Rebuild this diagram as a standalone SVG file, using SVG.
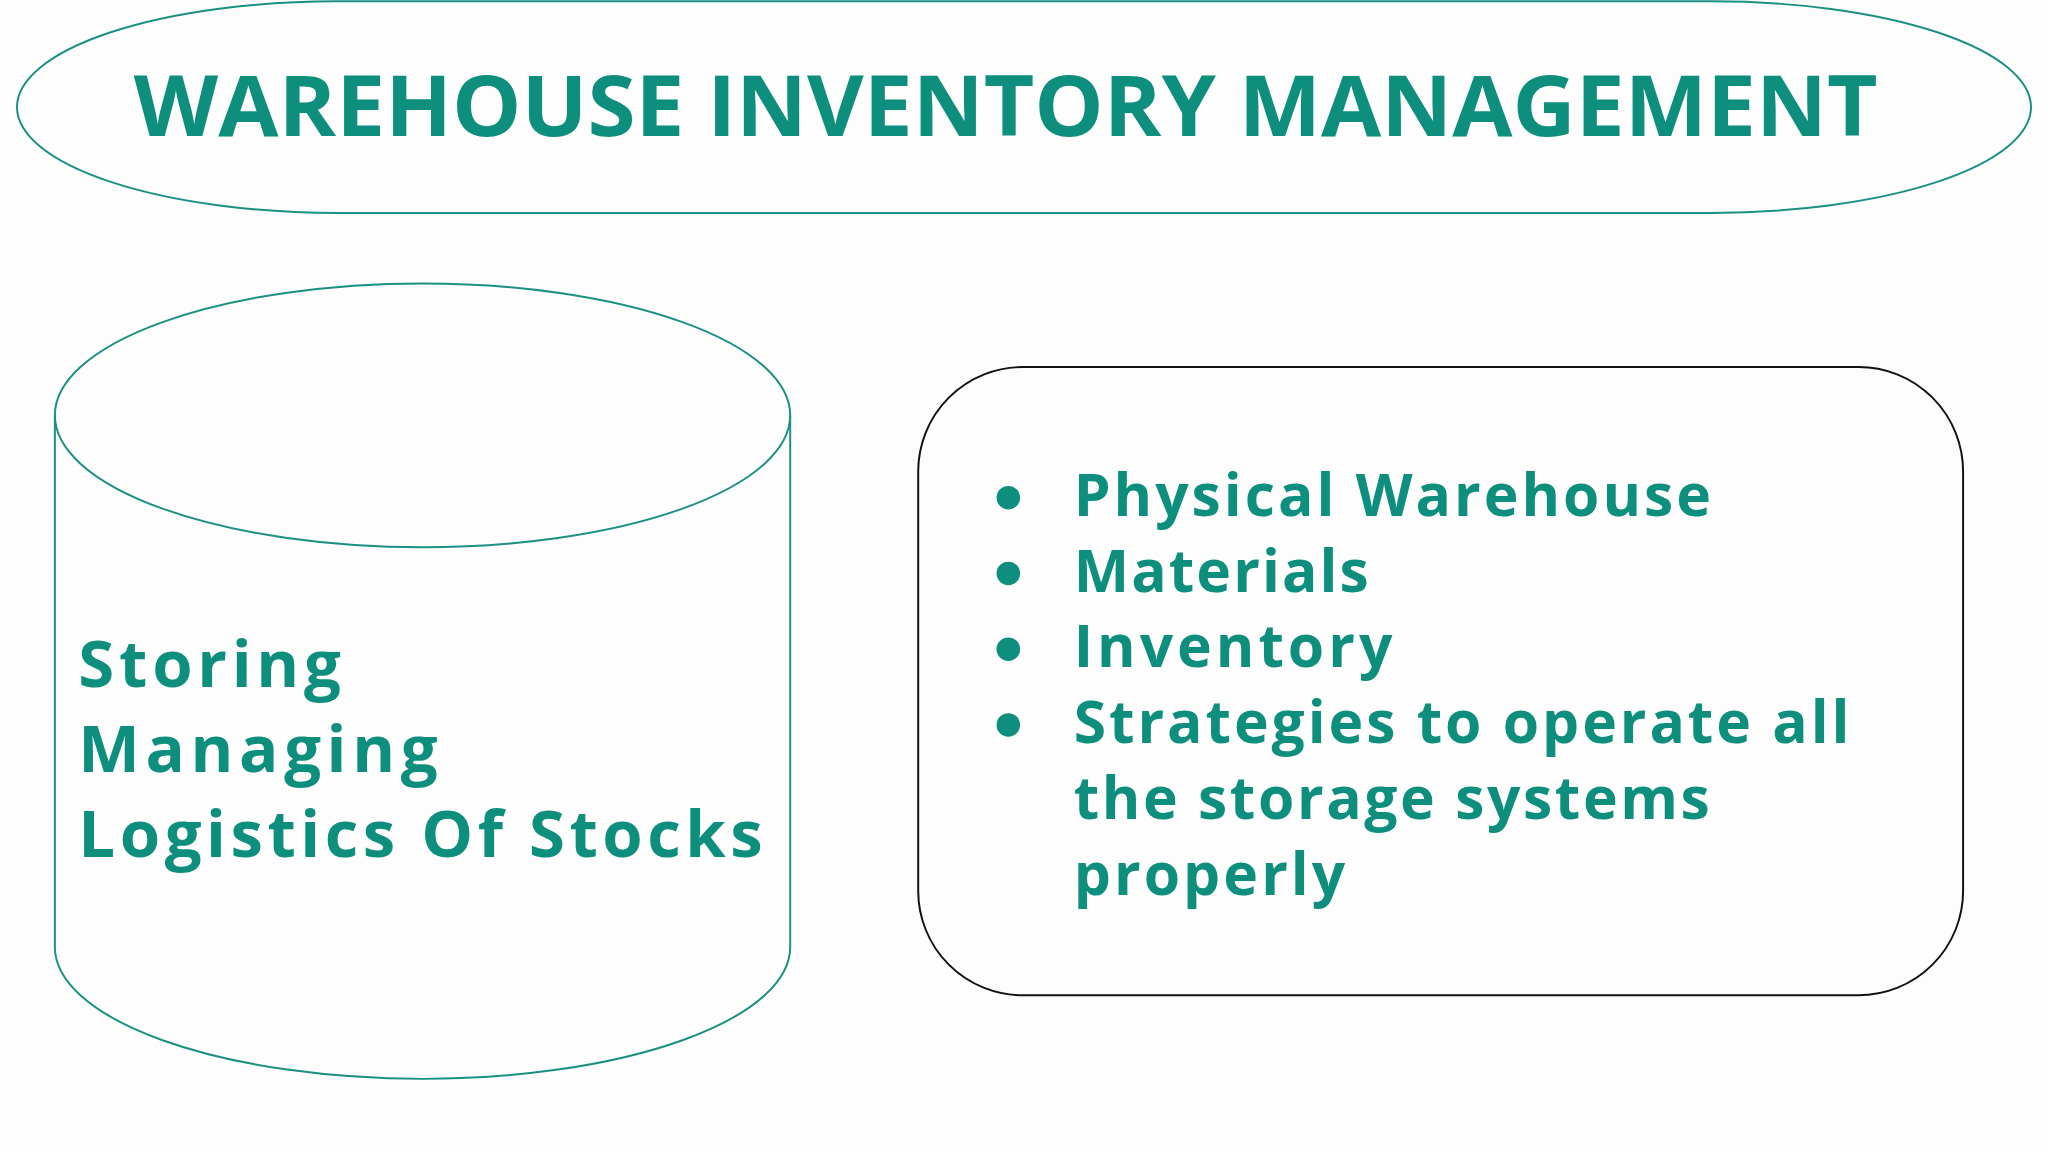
<svg xmlns="http://www.w3.org/2000/svg" width="2048" height="1152" viewBox="0 0 2048 1152">
<style>
.t{fill:#0e8f7d;font-family:"Open Sans",Lato,sans-serif;font-weight:bold}
.ol{fill:none;stroke:#1a9080;stroke-width:1.5}
</style>
<rect width="2048" height="1152" fill="#fdfdfd"/>
<g transform="scale(1.30612)">
<g id="title">
<path class="ol" d="M258,1 H1310 A245,81 0 0 1 1310,163 H258 A245,81 0 0 1 258,1 Z"/>
<text class="t" x="770" y="104" font-size="64" text-anchor="middle" textLength="1335" lengthAdjust="spacingAndGlyphs">WAREHOUSE INVENTORY MANAGEMENT</text>
</g>
<g id="cylinder">
<path class="ol" d="M42,318 V725 A281.5,101 0 0 0 605,725 V318"/>
<ellipse class="ol" cx="323.5" cy="318" rx="281.5" ry="101"/>
<text class="t" font-size="50" lengthAdjust="spacingAndGlyphs"><tspan x="60" y="526" textLength="201">Storing</tspan><tspan x="60" y="591" textLength="275">Managing</tspan><tspan x="60" y="656" textLength="524">Logistics Of Stocks</tspan></text>
</g>
<g id="box">
<rect x="703" y="281" width="800" height="481" rx="80" fill="none" stroke="#111" stroke-width="1.5"/>
<g fill="#0e8f7d"><circle cx="772" cy="381" r="9"/><circle cx="772" cy="439" r="9"/><circle cx="772" cy="497" r="9"/><circle cx="772" cy="555" r="9"/></g>
<text class="t" font-size="45" lengthAdjust="spacingAndGlyphs"><tspan x="822" y="395" textLength="488">Physical Warehouse</tspan><tspan x="822" y="453" textLength="226">Materials</tspan><tspan x="822" y="511" textLength="244">Inventory</tspan><tspan x="822" y="569" textLength="594">Strategies to operate all</tspan><tspan x="822" y="627" textLength="487">the storage systems</tspan><tspan x="822" y="685" textLength="208">properly</tspan></text>
</g>
</g>
</svg>
